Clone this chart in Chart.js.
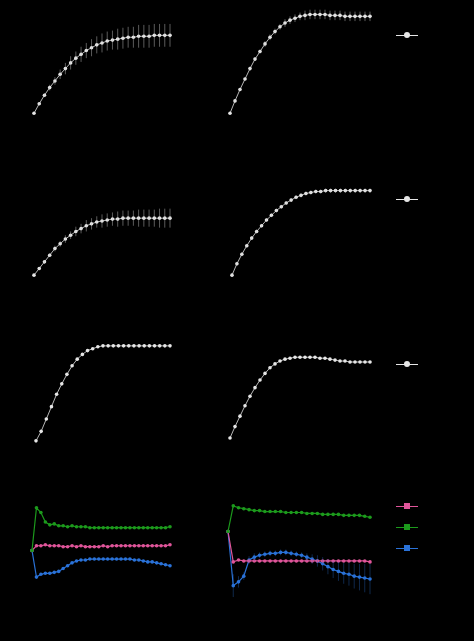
<!DOCTYPE html>
<html>
<head>
<meta charset="utf-8">
<script src="https://cdn.jsdelivr.net/npm/chart.js@4/dist/chart.umd.min.js"></script>
<style>
  body { margin: 0; background: #000; width: 474px; height: 641px; position: relative; overflow: hidden; font-family: "DejaVu Sans", sans-serif; }
  .box { position: absolute; }
  .leg { position: absolute; font-size: 9px; color: #000; display: flex; align-items: center; }
  .leg i { display: inline-block; width: 22px; height: 1px; position: relative; margin-right: 4px; }
  .leg i b { position: absolute; left: 8px; top: -3px; width: 6px; height: 6px; }
</style>
</head>
<body>
<script>
// values, y range 0..160 per panel
const r1Left  = [45,55,64,72,79,86,92,98,103,107,111,114,117,119,121,122,123,124,125,125,126,126,126,127,127,127,127];
const r1LeftErr = [0,1,2,3,4,5,6,7,7,8,8,9,9,10,10,10,11,11,11,11,12,12,12,12,12,12,12];
const r1Right = [45,58,70,81,92,102,110,118,125,131,136,140,143,145,147,148,149,149,149,149,148,148,148,147,147,147,147,147,147];
const r1RightErr = [0,1,1,1,2,2,2,3,3,3,3,4,4,4,4,5,5,5,5,5,5,5,5,5,5,5,5,5,5];
const r2Left  = [43,50,57,64,71,76,81,85,89,92,95,97,99,100,101,102,102,103,103,103,103,103,103,103,103,103,103];
const r2LeftErr = [0,1,2,2,3,3,4,4,5,5,6,6,6,7,7,7,8,8,8,8,9,9,9,9,10,10,10];
const r2Right = [43,55,65,74,82,89,95,101,106,111,115,119,122,125,127,129,130,131,131,132,132,132,132,132,132,132,132,132,132];
const r2RightErr = r2Right.map(() => 2);
const r3Left  = [37,47,60,73,86,97,107,116,123,128,132,134,136,137,137,137,137,137,137,137,137,137,137,137,137,137,137];
const r3Right = [40,52,63,74,84,93,101,108,114,118,121,123,124,125,125,125,125,125,124,124,123,122,121,121,120,120,120,120,120];
const r4LeftGreen = [90,135,130,120,117,118,116,116,115,116,115,115,115,114,114,114,114,114,114,114,114,114,114,114,114,114,114,114,114,114,114,115];
const r4LeftPink  = [90,95,95,96,95,95,95,94,94,95,94,95,94,94,94,94,95,94,95,95,95,95,95,95,95,95,95,95,95,95,95,96];
const r4LeftBlue  = [90,62,65,66,66,67,68,71,74,77,79,80,80,81,81,81,81,81,81,81,81,81,81,80,80,79,78,78,77,76,75,74];
const r4RightGreen = [110,137,135,134,133,132,132,131,131,131,131,130,130,130,130,129,129,129,128,128,128,128,127,127,127,127,126,125];
const r4RightPink  = [110,78,80,79,79,79,79,79,79,79,79,79,79,79,79,79,79,79,79,79,79,79,79,79,79,79,79,78];
const r4RightBlue  = [110,53,57,63,80,83,85,86,87,87,88,88,87,86,85,83,81,79,76,73,70,68,66,65,63,62,61,60];
const r4RightBlueErr = [0,12,6,4,4,4,3,3,3,3,3,3,3,3,3,4,5,6,7,8,9,10,11,12,13,14,15,16];
const legendLabels = ['Group A', 'Group B', 'Group C'];
const white = '#e6e6e6', pink = '#e0559a', green = '#1c9a1c', blue = '#2a72d8';

const errPlugin = {
  id: 'errs',
  afterDatasetsDraw(chart) {
    const ctx = chart.ctx, y = chart.scales.y;
    chart.data.datasets.forEach((ds, i) => {
      if (!ds.err) return;
      const meta = chart.getDatasetMeta(i);
      ctx.save();
      ctx.strokeStyle = ds.errColor || 'rgba(200,200,200,0.45)';
      ctx.lineWidth = 1;
      meta.data.forEach((p, j) => {
        const e = ds.err[j];
        if (!e) return;
        ctx.beginPath();
        ctx.moveTo(p.x, y.getPixelForValue(ds.data[j] - e));
        ctx.lineTo(p.x, y.getPixelForValue(ds.data[j] + e));
        ctx.stroke();
      });
      ctx.restore();
    });
  }
};

function panel(left, top, width, sets) {
  const div = document.createElement('div');
  div.className = 'box';
  div.style.left = (left - 4) + 'px';
  div.style.top = top + 'px';
  div.style.width = (width + 8) + 'px';
  div.style.height = '160px';
  const c = document.createElement('canvas');
  div.appendChild(c);
  document.body.appendChild(div);
  const n = sets[0].data.length;
  new Chart(c, {
    type: 'line',
    data: {
      labels: sets[0].data.map((_, i) => i + 1),
      datasets: sets.map(s => ({
        data: s.data, err: s.err, errColor: s.errColor,
        borderColor: s.color, backgroundColor: s.color,
        borderWidth: s.color === white ? 0.8 : 1.2,
        pointRadius: 1.8, pointBorderWidth: 0, tension: 0, clip: false
      }))
    },
    options: {
      responsive: true, maintainAspectRatio: false, animation: false,
      layout: { padding: { left: 4, right: 4, top: 0, bottom: 0 } },
      plugins: { legend: { display: false }, tooltip: { enabled: false } },
      scales: {
        x: { display: false, offset: false },
        y: { display: false, min: 0, max: 160 }
      }
    },
    plugins: [errPlugin]
  });
}

panel(34, 0, 136, [{ data: r1Left, err: r1LeftErr, color: white }]);
panel(230, 0, 140, [{ data: r1Right, err: r1RightErr, color: white }]);
panel(34, 160, 136, [{ data: r2Left, err: r2LeftErr, color: white }]);
panel(232, 160, 138, [{ data: r2Right, err: r2RightErr, color: white }]);
panel(36, 320, 134, [{ data: r3Left, color: white }]);
panel(230, 320, 140, [{ data: r3Right, color: white }]);
panel(32, 480, 138, [
  { data: r4LeftGreen, color: green },
  { data: r4LeftPink, color: pink },
  { data: r4LeftBlue, color: blue }
]);
panel(228, 480, 142, [
  { data: r4RightGreen, color: green },
  { data: r4RightPink, color: pink },
  { data: r4RightBlue, err: r4RightBlueErr, errColor: 'rgba(42,114,216,0.35)', color: blue }
]);

function legend(top, color, text, round) {
  const d = document.createElement('div');
  d.className = 'leg';
  d.style.left = '396px';
  d.style.top = (top - 5) + 'px';
  d.innerHTML = `<i style="background:${color}"><b style="background:${color};border-radius:${round ? '50%' : '0'}"></b></i>${text}`;
  document.body.appendChild(d);
}
legend(35, white, 'Mean', true);
legend(199, white, 'Mean', true);
legend(364, white, 'Mean', true);
legend(506, pink, legendLabels[0]);
legend(527, green, legendLabels[1]);
legend(548, blue, legendLabels[2]);
</script>
</body>
</html>
